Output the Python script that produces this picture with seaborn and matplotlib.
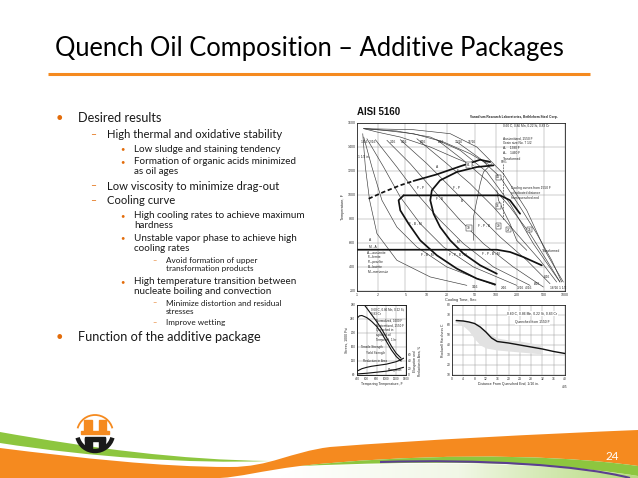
import numpy as np
import pandas as pd
import matplotlib
matplotlib.use("Agg")
import matplotlib.pyplot as plt
import seaborn as sns
from matplotlib.path import Path
from matplotlib.patches import PathPatch, Rectangle, Arc

sns.set_theme(style="white")
plt.rcParams['font.family'] = ['Lato', 'DejaVu Sans']

W, H = 638, 478

# ---------------- slide text ----------------
title_text = "Quench Oil Composition \u2013 Additive Packages"
page_no = "24"

# (level, text, has marker)
bullet_lines = [
    (1, "Desired results", True),
    (2, "High thermal and oxidative stability", True),
    (3, "Low sludge and staining tendency", True),
    (3, "Formation of organic acids minimized", True),
    (3, "as oil ages", False),
    (2, "Low viscosity to minimize drag-out", True),
    (2, "Cooling curve", True),
    (3, "High cooling rates to achieve maximum", True),
    (3, "hardness", False),
    (3, "Unstable vapor phase to achieve high", True),
    (3, "cooling rates", False),
    (4, "Avoid formation of upper", True),
    (4, "transformation products", False),
    (3, "High temperature transition between", True),
    (3, "nucleate boiling and convection", False),
    (4, "Minimize distortion and residual", True),
    (4, "stresses", False),
    (4, "Improve wetting", True),
    (1, "Function of the additive package", True),
]

# ---------------- CCT diagram (time s, temperature F) ----------------
cct_xticks = [1, 2, 5, 10, 20, 50, 100, 200, 500, 1000]
cct_yticks = [200, 400, 600, 800, 1000, 1200, 1400, 1600]

cool_1 = ([1.21, 1.32, 1.52, 1.94, 3.76, 11.4, 38.4], [1511, 1233, 956, 678, 456, 317, 247])
cool_2 = ([1.25, 1.64, 2.29, 3.76, 7.30, 19.8, 98.3], [1483, 1233, 956, 733, 567, 400, 247])
cool_3 = ([1.39, 2.42, 4.21, 8.16, 17.7, 47.9, 201], [1469, 1233, 983, 761, 567, 400, 247])
cool_4 = ([1.84, 3.76, 7.30, 15.8, 34.4, 93.0, 313], [1461, 1233, 1011, 789, 594, 400, 247])
cool_6 = ([2.70, 5.86, 12.7, 30.8, 66.8, 180, 488], [1456, 1261, 1039, 789, 594, 400, 233])
cool_8 = ([4.21, 10.2, 24.7, 53.5, 116, 281, 608], [1461, 1261, 1039, 844, 650, 456, 261])
cool_12 = ([7.30, 19.8, 42.9, 93.0, 201, 437, 758], [1469, 1261, 1094, 900, 678, 456, 275])
cool_16 = ([14.2, 34.4, 74.6, 161, 313, 545, 846], [1461, 1289, 1122, 900, 678, 456, 275])
cool_24 = ([27.6, 59.8, 116, 225, 391, 643, 895], [1442, 1303, 1150, 900, 678, 456, 275])
cool_arc1 = ([1.25, 6.54, 22.1, 53.5, 129, 281, 545, 945], [1553, 1544, 1511, 1400, 1178, 872, 511, 275])
cool_arc2 = ([1.25, 3.76, 11.4, 30.8, 74.6, 161, 350, 846], [1553, 1533, 1483, 1372, 1192, 928, 594, 275])
cool_arc3 = ([1.25, 2.42, 6.54, 17.7, 42.9, 83.3], [1553, 1539, 1511, 1442, 1344, 1247])
cool_arc4 = ([1.25, 1.94, 4.21, 11.4, 27.6, 47.9], [1553, 1525, 1483, 1400, 1303, 1247])

ferrite_start_dash = ([1.47, 2.42, 4.21, 6.54], [969, 1025, 1081, 1117])
ferrite_start = ([6.54, 14.2, 30.8, 59.8, 83.3], [1117, 1172, 1239, 1294, 1275])
pearlite_start = ([93.0, 53.5, 27.6, 15.8, 12.0, 11.4, 12.7, 15.8, 22.1, 34.4, 59.8, 104],
                  [1247, 1233, 1192, 1122, 1039, 956, 844, 733, 622, 511, 414, 344])
bainite_top = ([4.70, 116, 161, 225], [997, 997, 956, 844])
bainite_low = ([4.70, 3.98, 4.21, 5.54, 8.16, 14.2, 27.6, 53.5, 98.3],
               [997, 956, 872, 761, 622, 497, 386, 303, 255])
ms_line = ([1.0, 104, 161, 251, 462], [544, 544, 525, 483, 414])
trans_1 = ([88.0, 66.8, 59.8, 53.5, 47.9, 47.9], [1261, 1192, 1094, 956, 817, 622])
trans_2 = ([104, 110, 129, 161, 201, 281], [1039, 956, 872, 761, 622, 539])
trans_3 = ([129, 129], [1261, 789])

# ---------------- tempering chart ----------------
temper_tensile_T = [550, 600, 700, 800, 900, 1000, 1100, 1200, 1300]
temper_tensile = [280, 271, 252, 233, 212, 188, 163, 142, 128]
temper_yield_T = [400, 450, 500, 600, 700, 800, 900, 1000, 1100, 1200, 1300]
temper_yield = [242, 249, 250, 244, 233, 219, 200, 176, 152, 133, 120]
temper_ra_T = [400, 500, 600, 700, 800, 1000, 1200, 1300, 1350]
temper_ra = [11, 18, 22, 25, 27, 31, 38, 44, 48]
temper_el_T = [400, 600, 800, 1000, 1200, 1350]
temper_el = [3, 5, 8, 11, 16, 22]

# ---------------- hardenability (Jominy) chart ----------------
jominy_dist = [1.5, 4, 6, 8, 10, 12, 14, 16, 20, 24, 28, 32, 36, 40]
jominy_hrc = [64.5, 64, 63, 61.5, 58, 53, 47, 43.5, 42, 40, 38, 36, 33.5, 31.5]
band_dist = [1, 2, 4, 6, 8, 10, 12, 14, 16, 20, 24, 28, 32]
band_high = [65, 65, 64.5, 63, 61, 58, 54, 50, 47, 45, 44, 42, 40]
band_low = [63, 62, 59, 54, 46, 40, 37, 36, 35, 34, 33, 32, 31]

ORANGE = "#f58a1f"
BORANGE = "#e36c0a"
GREEN = "#8dc63f"
PURPLE = "#5b3f8f"

fig = plt.figure(figsize=(W / 100, H / 100), dpi=100)
fig.patch.set_facecolor("white")

bg = fig.add_axes([0, 0, 1, 1])
bg.set_xlim(0, W)
bg.set_ylim(H, 0)
bg.axis("off")

# title + rule
bg.text(55, 48, title_text, fontsize=18.4, color="black", va="center", ha="left")
bg.plot([48, 590], [74, 74], color=ORANGE, lw=2.2, solid_capstyle="butt")

# bullets
line_y = [118, 135, 149, 162, 171, 186, 201, 216, 225, 238, 248, 261, 269, 282, 292, 303, 312, 323, 337]
text_x = {1: 78, 2: 107, 3: 134, 4: 166}
mark_x = {1: 56, 2: 90, 3: 120, 4: 152}
mark_ch = {1: "\u2022", 2: "\u2013", 3: "\u2022", 4: "\u2013"}
sizes = {1: 9.2, 2: 8.1, 3: 7.1, 4: 5.9}
msizes = {1: 9.2, 2: 7.5, 3: 5.5, 4: 5.4}
for (lvl, txt, has_mark), y in zip(bullet_lines, line_y):
    bg.text(text_x[lvl], y, txt, fontsize=sizes[lvl], color="#1a1a1a", va="center", ha="left")
    if has_mark:
        bg.text(mark_x[lvl], y, mark_ch[lvl], fontsize=msizes[lvl], color=BORANGE,
                va="center", ha="left")

# ---------------- footer decoration ----------------
C4 = Path.CURVE4
M, L, Z = Path.MOVETO, Path.LINETO, Path.CLOSEPOLY

orange_path = Path(
    [(0, 448), (80, 458), (160, 467), (230, 467),
     (270, 467), (290, 452), (330, 447),
     (420, 440), (540, 434), (638, 430),
     (638, 466),
     (540, 452), (400, 455), (300, 466),
     (260, 471), (240, 477), (220, 478),
     (0, 478), (0, 448)],
    [M, C4, C4, C4, C4, C4, C4, C4, C4, C4, L, C4, C4, C4, C4, C4, C4, L, Z])
bg.add_patch(PathPatch(orange_path, facecolor=ORANGE, edgecolor="none"))

green_left = Path(
    [(0, 432), (90, 448), (180, 460), (270, 461), (190, 464), (90, 457), (0, 443), (0, 432)],
    [M, C4, C4, C4, C4, C4, C4, Z])
bg.add_patch(PathPatch(green_left, facecolor=GREEN, edgecolor="none"))

wedge_path = Path([(280, 478), (300, 467), (420, 462), (540, 461), (638, 476), (638, 478), (280, 478)],
                  [M, L, C4, C4, C4, L, Z])
wedge = PathPatch(wedge_path, facecolor="none", edgecolor="none")
bg.add_patch(wedge)
grad = np.linspace(0, 1, 256).reshape(1, -1)
im = bg.imshow(grad, extent=[280, 638, 478, 458],
               cmap=matplotlib.colors.LinearSegmentedColormap.from_list(
                   "wg", ["#ffffff", "#f1f7e6", "#b5da7c"]), aspect="auto", zorder=1)
im.set_clip_path(wedge)

green_right = Path(
    [(300, 466), (400, 455), (540, 452), (638, 466), (638, 476),
     (540, 460), (420, 461), (300, 466)],
    [M, C4, C4, C4, L, C4, C4, C4])
bg.add_patch(PathPatch(green_right, facecolor=GREEN, edgecolor="none", zorder=2))

purple_path = Path([(380, 462), (480, 459), (580, 465), (630, 478)], [M, C4, C4, C4])
bg.add_patch(PathPatch(purple_path, facecolor="none", edgecolor=PURPLE, lw=1.5, zorder=3))
bg.set_xlim(0, W)
bg.set_ylim(H, 0)

bg.text(612, 457, page_no, fontsize=8.5, color="white", va="center", ha="center", zorder=4)

# logo
lx, ly, lr = 95, 433, 18
bg.add_patch(Arc((lx, ly), 2 * lr, 2 * lr, theta1=195, theta2=345, color=ORANGE, lw=1.3))
bg.add_patch(Arc((lx, ly), 2 * lr, 2 * lr, theta1=15, theta2=165, color="#1a1a1a", lw=3.2))
bg.add_patch(Rectangle((84, 420), 7.5, 12, color=ORANGE))
bg.add_patch(Rectangle((98.5, 420), 7.5, 12, color=ORANGE))
bg.add_patch(Rectangle((81, 431), 28, 3, color=ORANGE))
bg.add_patch(Rectangle((85, 438), 6.5, 10, color="#1a1a1a"))
bg.add_patch(Rectangle((98.5, 438), 6.5, 10, color="#1a1a1a"))
bg.add_patch(Rectangle((85, 437), 20, 4, color="#1a1a1a"))

# ---------------- chart helpers ----------------
CHART_FONT = ['Liberation Sans Narrow', 'Liberation Sans', 'DejaVu Sans']


def curves_df(named):
    frames = []
    for name, (xs, ys) in named.items():
        frames.append(pd.DataFrame({"x": xs, "y": ys, "curve": name}))
    return pd.concat(frames, ignore_index=True)


def style_axes(a, fs=2.6):
    for s in a.spines.values():
        s.set_color("#222")
        s.set_linewidth(0.6)
    a.tick_params(labelsize=fs, length=0, pad=1.2, colors="#333")
    for lab in a.get_xticklabels() + a.get_yticklabels():
        lab.set_family(CHART_FONT)
    a.grid(True, color="#9a9a9a", lw=0.35)
    a.set_axisbelow(True)


# ---------------- main CCT diagram ----------------
ax = fig.add_axes([357 / W, 1 - 291 / H, 208 / W, 168 / H])
ax.set_xscale("log")
thin = curves_df({"1/16": cool_1, "2/16": cool_2, "3/16": cool_3, "4/16": cool_4,
                  "6/16": cool_6, "8/16": cool_8, "12/16": cool_12, "16/16": cool_16,
                  "24/16": cool_24, "a1": cool_arc1, "a2": cool_arc2, "a3": cool_arc3,
                  "a4": cool_arc4, "t1": trans_1, "t2": trans_2})
sns.lineplot(data=thin, x="x", y="y", units="curve", estimator=None, sort=False,
             color="#3a3a3a", lw=0.45, ax=ax)
thick = curves_df({"fs": ferrite_start, "ps": pearlite_start, "bt": bainite_top,
                   "bl": bainite_low, "ms": ms_line})
sns.lineplot(data=thick, x="x", y="y", units="curve", estimator=None, sort=False,
             color="#111", lw=1.25, ax=ax)
sns.lineplot(x=ferrite_start_dash[0], y=ferrite_start_dash[1], estimator=None, sort=False,
             color="#111", lw=1.25, ls=(0, (2.5, 1.5)), ax=ax)
sns.lineplot(x=trans_3[0], y=trans_3[1], estimator=None, sort=False,
             color="#333", lw=0.45, ls=(0, (3, 1.5)), ax=ax)
ax.set_xlim(1, 1000)
ax.set_ylim(200, 1600)
ax.set_xticks(cct_xticks)
ax.set_xticklabels([str(v) for v in cct_xticks])
ax.set_yticks(cct_yticks)
ax.set_yticklabels([str(v) for v in cct_yticks])
ax.minorticks_off()
style_axes(ax)
ax.set_xlabel("Cooling Time, Sec", fontsize=2.8, labelpad=1, family=CHART_FONT)
ax.set_ylabel("Temperature, F", fontsize=2.8, labelpad=2, family=CHART_FONT)

tk = dict(fontsize=2.3, color="#222", family=CHART_FONT, transform=ax.transAxes)
ax.text(0.7, 0.98, "0.60 C, 0.86 Mn, 0.22 Si, 0.83 Cr", **tk)
ax.text(0.7, 0.92, "Austenitized, 1550 F\nGrain size No. 7 1/2\nA\u2081    1380 F\nA\u2083    1460 F",
        va="top", linespacing=1.3, **tk)
ax.text(0.74, 0.55, "Cooling curves from 1550 F\nat indicated distance\nfrom quenched end",
        linespacing=1.3, **tk)
ax.text(0.7, 0.78, "Transformed", **tk)
ax.text(0.89, 0.23, "Transformed", **tk)
ax.text(0.61, 0.76, "50%", **tk)
ax.text(0.69, 0.76, "90%", **tk)
ax.text(0.05, 0.24, "A\u2014austenite\nF\u2014ferrite\nP\u2014pearlite\nB\u2014bainite\nM\u2014martensite",
        va="top", linespacing=1.25, **tk)
for lx_, ly_, s in [(0.02, 0.88, "1/16  2/16"), (0.16, 0.88, "3/16"), (0.21, 0.88, "4/16"),
                    (0.3, 0.88, "6/16"), (0.39, 0.88, "8/16"), (0.47, 0.88, "12/16"),
                    (0.53, 0.88, "16/16"), (0.005, 0.79, "1 1/2 in."),
                    (0.38, 0.735, "A"), (0.48, 0.71, "F"), (0.29, 0.61, "F - P"),
                    (0.46, 0.61, "F - P"), (0.38, 0.54, "F - B"), (0.5, 0.53, "B"),
                    (0.25, 0.39, "F - B - M"), (0.58, 0.38, "F - P - B"),
                    (0.06, 0.3, "A"), (0.06, 0.255, "M - A"),
                    (0.48, 0.285, "M"), (0.31, 0.21, "F - B - M"),
                    (0.44, 0.21, "F - P - B - M"), (0.6, 0.215, "F - P - B - M"),
                    (0.55, 0.02, "1/16"), (0.69, 0.01, "2/16"), (0.77, 0.01, "3/16  4/16"),
                    (0.85, 0.035, "6/16"), (0.9, 0.08, "8/16"), (0.93, 0.01, "16/16 1 1/2")]:
    ax.text(lx_, ly_, s, **tk)
for hx, hy, s in [(0.53, 0.745, "61"), (0.67, 0.67, "44"), (0.67, 0.50, "36"),
                  (0.53, 0.37, "30"), (0.67, 0.38, "29"), (0.72, 0.36, "27"), (0.82, 0.36, "25")]:
    ax.text(hx, hy, s, fontsize=2.3, family=CHART_FONT, transform=ax.transAxes,
            bbox=dict(boxstyle="square,pad=0.25", fc="white", ec="#222", lw=0.35))

fig.text(357 / W, 1 - 112 / H, "AISI 5160", fontsize=7, fontweight="bold",
         family=CHART_FONT, va="center", color="#111")
fig.text(470 / W, 1 - 117 / H, "Vanadium Research Laboratories, Bethlehem Steel Corp.",
         fontsize=2.3, fontweight="bold", family=CHART_FONT, va="center", color="#222")

# ---------------- tempering chart ----------------
ax2 = fig.add_axes([357 / W, 1 - 375 / H, 49 / W, 70 / H])
sns.lineplot(x=temper_tensile_T, y=temper_tensile, color="#111", lw=0.8, ax=ax2)
sns.lineplot(x=temper_yield_T, y=temper_yield, color="#111", lw=0.8, ax=ax2)
ax2.set_xlim(400, 1400)
ax2.set_ylim(80, 280)
ax2.set_xticks([400, 600, 800, 1000, 1200, 1400])
ax2.set_yticks([80, 120, 160, 200, 240, 280])
style_axes(ax2, fs=2.2)
ax2.set_xlabel("Tempering Temperature, F", fontsize=2.5, labelpad=1, family=CHART_FONT)
ax2.set_ylabel("Stress, 1000 Psi", fontsize=2.5, labelpad=1.5, family=CHART_FONT)
ax2r = ax2.twinx()
sns.lineplot(x=temper_ra_T, y=temper_ra, color="#111", lw=0.8, ax=ax2r)
sns.lineplot(x=temper_el_T, y=temper_el, color="#111", lw=0.8, ax=ax2r)
ax2r.set_ylim(0, 200)
ax2r.set_yticks([0, 20, 40, 60])
ax2r.tick_params(labelsize=2.2, length=0, pad=1.2)
ax2r.grid(False)
for s in ax2r.spines.values():
    s.set_linewidth(0.6)
    s.set_color("#222")
ax2r.set_ylabel("Elongation and\nReduction in Area, %", fontsize=2.3, labelpad=1.5,
                family=CHART_FONT, y=0.2, linespacing=1.1)
t2 = dict(fontsize=2.2, color="#222", family=CHART_FONT, transform=ax2.transAxes)
ax2.text(0.28, 0.97, "0.60 C, 0.86 Mn, 0.22 Si,\n0.83 Cr", va="top", linespacing=1.2, **t2)
ax2.text(0.38, 0.80, "Normalized, 1600 F\nAustenitized, 1550 F\nQuenched in\nagitated oil\nTempered, 1 hr",
         va="top", linespacing=1.25, **t2)
ax2.text(0.08, 0.38, "Tensile Strength", **t2)
ax2.text(0.18, 0.30, "Yield Strength", **t2)
ax2.text(0.12, 0.18, "Reduction in Area", **t2)
ax2.text(0.62, 0.06, "Elongation", **t2)

# ---------------- hardenability chart ----------------
ax3 = fig.add_axes([452 / W, 1 - 375 / H, 113 / W, 70 / H])
ax3.fill_between(band_dist, band_low, band_high, color="#e2e2e2", lw=0)
sns.lineplot(x=jominy_dist, y=jominy_hrc, color="#111", lw=1.0, ax=ax3)
ax3.set_xlim(0, 40)
ax3.set_ylim(10, 80)
ax3.set_xticks(range(0, 41, 4))
ax3.set_yticks(range(10, 81, 10))
style_axes(ax3, fs=2.4)
ax3.set_xlabel("Distance From Quenched End, 1/16 in.", fontsize=2.5, labelpad=1, family=CHART_FONT)
ax3.set_ylabel("Rockwell Hardness C", fontsize=2.5, labelpad=1.5, family=CHART_FONT)
t3 = dict(fontsize=2.4, color="#222", family=CHART_FONT, transform=ax3.transAxes, ha="center",
          bbox=dict(fc="white", ec="none", pad=0.3))
ax3.text(0.71, 0.86, "0.60 C, 0.86 Mn, 0.22 Si, 0.83 Cr", **t3)
ax3.text(0.71, 0.74, "Quenched from 1550 F", **t3)
fig.text(562 / W, 1 - 388 / H, "405", fontsize=2.4, family=CHART_FONT, color="#333")

fig.savefig("out.png", dpi=100, facecolor="white")
